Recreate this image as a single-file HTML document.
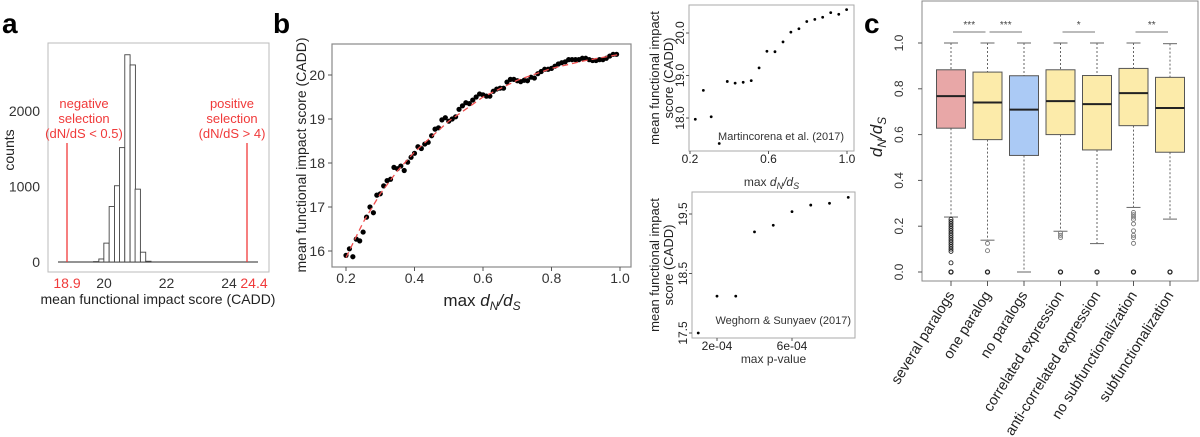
<!DOCTYPE html>
<html><head><meta charset="utf-8">
<style>
html,body{margin:0;padding:0;background:#fff;}
svg{display:block;font-family:"Liberation Sans",sans-serif;}
</style></head>
<body>
<svg id="fig" width="1200" height="437" viewBox="0 0 1200 437" xmlns="http://www.w3.org/2000/svg">
<text x="2" y="33" font-size="28" font-weight="bold">a</text>
<text x="273" y="33" font-size="28" font-weight="bold">b</text>
<text x="864" y="33" font-size="28" font-weight="bold">c</text>
<g id="pa"></g>
<g id="pb"></g>
<g id="pb2"></g>
<g id="pb3"></g>
<g id="pc"></g>
</svg>
<script>
// ---- Panel a data ----
const histCenters = [19.75,19.92,20.08,20.25,20.42,20.58,20.75,20.92,21.08,21.25,21.42];
const histCounts = [5,40,250,735,1010,1515,2745,2610,965,130,10];
const aYTicks = [0,1000,2000];
const aXTicks = [20,22,24];
const aRedLines = [18.9,24.4];
// ---- Panel b data ----
const bX = [];
for (let i=0;i<80;i++) bX.push(+(0.20+i*0.01).toFixed(2));
const bY = [15.9,16.05,15.87,16.27,16.23,16.43,16.77,17.0,16.87,17.27,17.3,17.48,17.6,17.63,17.9,17.87,17.93,17.83,18.02,18.13,18.22,18.37,18.33,18.43,18.47,18.62,18.77,18.8,18.98,19.03,18.95,19.0,19.05,19.22,19.3,19.37,19.35,19.43,19.5,19.57,19.55,19.52,19.52,19.63,19.68,19.7,19.7,19.84,19.9,19.9,19.87,19.85,19.88,19.87,19.95,19.93,20.03,20.08,20.13,20.13,20.15,20.2,20.25,20.28,20.3,20.35,20.35,20.35,20.35,20.38,20.38,20.35,20.33,20.33,20.35,20.35,20.38,20.43,20.47,20.47];
const fitX = [0.2,0.25,0.3,0.35,0.4,0.5,0.6,0.7,0.8,0.9,1.0];
const fitY = [15.85,16.65,17.3,17.82,18.25,18.95,19.5,19.88,20.15,20.33,20.47];
const bXTicks = [0.2,0.4,0.6,0.8,1.0];
const bYTicks = [16,17,18,19,20];
// ---- Inset 1 ----
const mX = [0.227,0.268,0.308,0.349,0.39,0.43,0.471,0.512,0.552,0.592,0.633,0.674,0.714,0.755,0.795,0.836,0.876,0.917,0.958,0.998];
const mY = [17.97,18.65,18.03,17.4,18.86,18.82,18.84,18.88,19.18,19.57,19.56,19.79,20.02,20.1,20.27,20.32,20.37,20.48,20.44,20.55];
const mXTicks = [0.2,0.6,1.0];
const mYTicks = [18.0,19.0,20.0];
// ---- Inset 2 ----
const wX = [1e-4,2e-4,3e-4,4e-4,5e-4,6e-4,7e-4,8e-4,9e-4];
const wY = [17.5,18.12,18.12,19.2,19.31,19.54,19.65,19.68,19.78];
const wXTicks = [2e-4,6e-4];
const wXLabels = ["2e-04","6e-04"];
const wYTicks = [17.5,18.5,19.5];
// ---- Panel c ----
const cCats = ["several paralogs","one paralog","no paralogs","correlated expression","anti-correlated expression","no subfunctionalization","subfunctionalization"];
const cQ1 = [0.628,0.578,0.509,0.600,0.533,0.639,0.523];
const cMed = [0.768,0.740,0.709,0.746,0.733,0.781,0.716];
const cQ3 = [0.883,0.873,0.857,0.883,0.858,0.889,0.850];
const cLo = [0.24,0.139,0.0,0.178,0.124,0.282,0.231];
const cHi = [1.0,1.0,1.0,1.0,1.0,1.0,0.997];
const cOut = [[0,0.04,0.09,0.1,0.11,0.12,0.13,0.14,0.15,0.16,0.17,0.18,0.19,0.2,0.21,0.22,0.23],[0,0.093,0.125],[],[0,0.15,0.16,0.17],[0],[0,0.125,0.15,0.16,0.18,0.21,0.23,0.24,0.25,0.26],[0]];
const cFill = ["#e8a7a7","#fcebaa","#abcaf5","#fcebaa","#fcebaa","#fcebaa","#fcebaa"];
const cSigPairs = [[0,1],[1,2],[3,4],[5,6]];
const cSigLabels = ["***","***","*","**"];
const cYTicks = [0,0.2,0.4,0.6,0.8,1.0];

const NS="http://www.w3.org/2000/svg";
function mk(parent,tag,attrs,text){const e=document.createElementNS(NS,tag);for(const k in attrs)e.setAttribute(k,attrs[k]);if(text!==undefined)e.textContent=text;parent.appendChild(e);return e;}
function lin(d0,d1,r0,r1){return v=>r0+(v-d0)/(d1-d0)*(r1-r0);}

// Panel a
(function(){
 const g=document.getElementById('pa');
 const x=lin(20,24,104,229), y=lin(0,2000,262,111);
 let e=mk(g,'rect',{x:48,y:43,width:221,height:229,fill:'#fff',stroke:'#bbb','stroke-width':1});
 
 
 e=mk(g,'line',{x1:58,y1:262,x2:258,y2:262,stroke:'#555','stroke-width':1.2});
 
 
 const bw=0.17;
 histCenters.forEach((c,i)=>{
  const b=mk(g,'rect',{x:x(c-bw/2),y:y(histCounts[i]),width:x(c+bw/2)-x(c-bw/2),height:262-y(histCounts[i]),fill:'#fff',stroke:'#444','stroke-width':0.9});
  
  
 });
 aYTicks.forEach(t=>{
  const l=mk(g,'text',{x:40,y:y(t)+5,'font-size':14,fill:'#333','text-anchor':'end'},String(t));
  
  
 });
 aXTicks.forEach(t=>{
  const l=mk(g,'text',{x:x(t),y:288,'font-size':14,fill:'#333','text-anchor':'middle'},String(t));
  
  
 });
 aRedLines.forEach((t,i)=>{
  const xx = i===0?67:247;
  const l=mk(g,'line',{x1:xx,y1:143,x2:xx,y2:262,stroke:'#f03a3a','stroke-width':1.3});
  
  
  const tl=mk(g,'text',{x:i===0?67:254,y:288,'font-size':14,fill:'#f03a3a','text-anchor':'middle'},String(t));
  
  
 });
 const neg=["negative","selection","(dN/dS < 0.5)"], pos=["positive","selection","(dN/dS > 4)"];
 neg.forEach((s,i)=>{const t=mk(g,'text',{x:84,y:108+i*15,'font-size':13,fill:'#f03a3a','text-anchor':'middle'},s);});
 pos.forEach((s,i)=>{const t=mk(g,'text',{x:232,y:108+i*15,'font-size':13,fill:'#f03a3a','text-anchor':'middle'},s);});
 let t=mk(g,'text',{x:158,y:304,'font-size':14,fill:'#222','text-anchor':'middle'},'mean functional impact score (CADD)');
 
 
 t=mk(g,'text',{x:0,y:0,'font-size':14,fill:'#222','text-anchor':'middle',transform:'translate(14,150) rotate(-90)'},'counts');
 
 
})();

// Panel b
(function(){
 const g=document.getElementById('pb');
 const x=lin(0.2,1.0,346,620), y=lin(16,20,251,75);
 let e=mk(g,'rect',{x:332,y:44,width:299,height:223,fill:'#fff',stroke:'#888','stroke-width':1.2});
 
 
 bXTicks.forEach(t=>{
  mk(g,'line',{x1:x(t),y1:267,x2:x(t),y2:271,stroke:'#555'});
  const l=mk(g,'text',{x:x(t),y:283,'font-size':14,fill:'#333','text-anchor':'middle'},t.toFixed(1));
  
  
 });
 bYTicks.forEach(t=>{
  mk(g,'line',{x1:328,y1:y(t),x2:332,y2:y(t),stroke:'#555'});
  const l=mk(g,'text',{x:325,y:y(t)+5,'font-size':14,fill:'#333','text-anchor':'end'},String(t));
  
  
 });
 bX.forEach((v,i)=>{
  const p=mk(g,'circle',{cx:x(v),cy:y(bY[i]),r:2.6,fill:'#000'});
  
  
 });
 const fl=mk(g,'polyline',{points:fitX.map((v,i)=>x(v)+','+y(fitY[i])).join(' '),fill:'none',stroke:'#f05050','stroke-width':1.3,'stroke-dasharray':'6,4'});
 
 
 let t=mk(g,'text',{x:482,y:306,'font-size':17,fill:'#222','text-anchor':'middle'});
 t.innerHTML='max <tspan font-style="italic">d</tspan><tspan font-style="italic" font-size="12" dy="4">N</tspan><tspan dy="-4" font-style="italic">/d</tspan><tspan font-style="italic" font-size="12" dy="4">S</tspan>';
 
 
 t=mk(g,'text',{x:0,y:0,'font-size':14,fill:'#222','text-anchor':'middle',transform:'translate(306,155) rotate(-90)'},'mean functional impact score (CADD)');
 
 
})();

function inset(id,box,xd,xr,yd,yr,xs,ys,xt,xtl,yt,note,noteXY,xtitleHTML,xtitleY){
 const g=document.getElementById(id);
 const x=lin(xd[0],xd[1],xr[0],xr[1]), y=lin(yd[0],yd[1],yr[0],yr[1]);
 let e=mk(g,'rect',{x:box[0],y:box[1],width:box[2],height:box[3],fill:'#fff',stroke:'#aaa','stroke-width':1});
 
 
 const bot=box[1]+box[3];
 xt.forEach((t,i)=>{
  mk(g,'line',{x1:x(t),y1:bot,x2:x(t),y2:bot+3,stroke:'#555'});
  const l=mk(g,'text',{x:x(t),y:bot+12,'font-size':12,fill:'#222','text-anchor':'middle'},xtl[i]);
  
  
 });
 yt.forEach(t=>{
  mk(g,'line',{x1:box[0]-3,y1:y(t),x2:box[0],y2:y(t),stroke:'#555'});
  const l=mk(g,'text',{x:0,y:0,'font-size':12,fill:'#222','text-anchor':'middle',transform:`translate(${box[0]-5},${y(t)}) rotate(-90)`},t.toFixed(1));
  
  
 });
 xs.forEach((v,i)=>{
  const p=mk(g,'circle',{cx:x(v),cy:y(ys[i]),r:1.4,fill:'#000'});
  
  
 });
 let t=mk(g,'text',{x:noteXY[0],y:noteXY[1],'font-size':11,fill:'#333','text-anchor':'end'},note);
 
 
 t=mk(g,'text',{x:box[0]+box[2]/2,y:xtitleY,'font-size':12,fill:'#333','text-anchor':'middle'});
 t.innerHTML=xtitleHTML;
 
 
 const cy=box[1]+box[3]/2;
 t=mk(g,'text',{x:0,y:0,'font-size':13,fill:'#222','text-anchor':'middle',transform:`translate(659,${cy}) rotate(-90)`},'mean functional impact');
 
 
 t=mk(g,'text',{x:0,y:0,'font-size':13,fill:'#222','text-anchor':'middle',transform:`translate(673,${cy}) rotate(-90)`},'score (CADD)');
 
 
}
inset('pb2',[689,5,165,146],[0.2,1.0],[690,847],[18,20],[118,33],mX,mY,mXTicks,["0.2","0.6","1.0"],mYTicks,'Martincorena et al. (2017)',[844,140],
 'max <tspan font-style="italic">d</tspan><tspan font-style="italic" font-size="9" dy="3">N</tspan><tspan dy="-3" font-style="italic">/d</tspan><tspan font-style="italic" font-size="9" dy="3">S</tspan>',186);
inset('pb3',[692,192,163,146],[2e-4,6e-4],[717,792],[17.5,19.5],[333,214],wX,wY,wXTicks,wXLabels,wYTicks,'Weghorn & Sunyaev (2017)',[851,324],'max p-value',363);

// Panel c
(function(){
 const g=document.getElementById('pc');
 const y=lin(0,1,272,43);
 const xc=i=>951+i*36.5;
 const hw=14.5;
 let e=mk(g,'rect',{x:922,y:1,width:276,height:280,fill:'#fff',stroke:'#888','stroke-width':1});
 
 
 cYTicks.forEach(t=>{
  mk(g,'line',{x1:918,y1:y(t),x2:922,y2:y(t),stroke:'#555'});
  const l=mk(g,'text',{x:0,y:0,'font-size':12,fill:'#333','text-anchor':'middle',transform:`translate(903,${y(t)}) rotate(-90)`},t.toFixed(1));
  
  
 });
 cCats.forEach((c,i)=>{
  const cx=xc(i);
  mk(g,'line',{x1:cx,y1:281,x2:cx,y2:286,stroke:'#555'});
  mk(g,'line',{x1:cx,y1:y(cHi[i]),x2:cx,y2:y(cQ3[i]),stroke:'#666','stroke-dasharray':'2,2'});
  mk(g,'line',{x1:cx,y1:y(cQ1[i]),x2:cx,y2:y(cLo[i]),stroke:'#666','stroke-dasharray':'2,2'});
  mk(g,'line',{x1:cx-7,y1:y(cHi[i]),x2:cx+7,y2:y(cHi[i]),stroke:'#666'});
  mk(g,'line',{x1:cx-7,y1:y(cLo[i]),x2:cx+7,y2:y(cLo[i]),stroke:'#666'});
  const b=mk(g,'rect',{x:cx-hw,y:y(cQ3[i]),width:2*hw,height:y(cQ1[i])-y(cQ3[i]),fill:cFill[i],stroke:'#555','stroke-width':1});
  
  
  const m=mk(g,'line',{x1:cx-hw,y1:y(cMed[i]),x2:cx+hw,y2:y(cMed[i]),stroke:'#222','stroke-width':2});
  
  
  cOut[i].forEach(v=>{
   const o=mk(g,'circle',{cx:cx,cy:y(v),r:2,fill:'none',stroke:(v===0||i===0)?'#222':'#777','stroke-width':v===0?1.3:0.9});
   
   
  });
  const l=mk(g,'text',{x:0,y:0,'font-size':14.5,fill:'#222','text-anchor':'end',transform:`translate(${cx+4},295) rotate(-58)`},c);
  
  
 });
 cSigPairs.forEach((p,i)=>{
  const l=mk(g,'line',{x1:xc(p[0])+2,y1:32,x2:xc(p[1])-2,y2:32,stroke:'#777'});
  
  
  const t=mk(g,'text',{x:(xc(p[0])+xc(p[1]))/2,y:28,'font-size':10,fill:'#444','text-anchor':'middle'},cSigLabels[i]);
  
  
 });
 const t=mk(g,'text',{x:0,y:0,'font-size':17,fill:'#222','text-anchor':'middle',transform:'translate(882,137) rotate(-90)'});
 t.innerHTML='<tspan font-style="italic">d</tspan><tspan font-style="italic" font-size="12" dy="4">N</tspan><tspan dy="-4" font-style="italic">/d</tspan><tspan font-style="italic" font-size="12" dy="4">S</tspan>';
 
 
})();
</script>
</body></html>
